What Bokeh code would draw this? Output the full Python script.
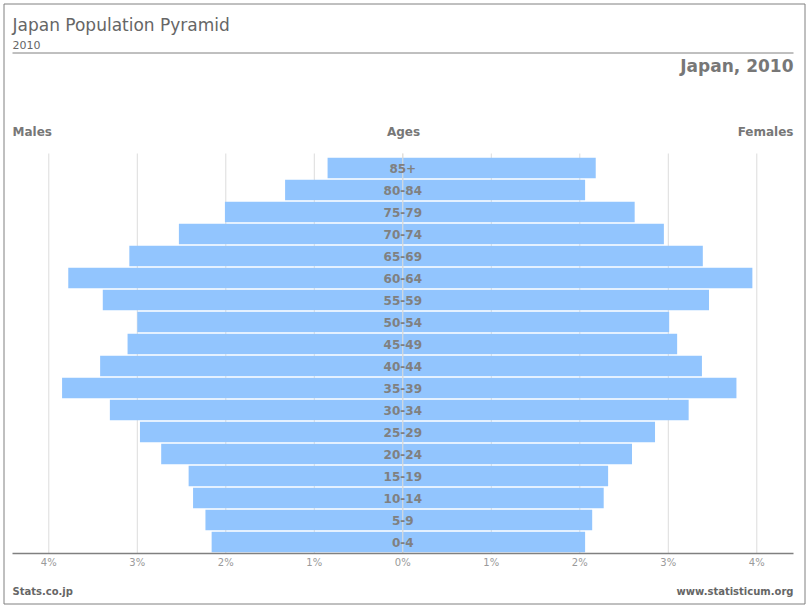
from bokeh.plotting import figure
from bokeh.models import ColumnDataSource, Range1d, Label
from bokeh.core.properties import value
from bokeh.embed import file_html
from bokeh.resources import INLINE

# ---- data (percent of total population) ----
ages = ["0-4", "5-9", "10-14", "15-19", "20-24", "25-29", "30-34", "35-39", "40-44",
        "45-49", "50-54", "55-59", "60-64", "65-69", "70-74", "75-79", "80-84", "85+"]
males = [2.16, 2.23, 2.37, 2.42, 2.73, 2.97, 3.31, 3.85, 3.42,
         3.11, 3.00, 3.39, 3.78, 3.09, 2.53, 2.01, 1.33, 0.85]
females = [2.06, 2.14, 2.27, 2.32, 2.59, 2.85, 3.23, 3.77, 3.38,
           3.10, 3.01, 3.46, 3.95, 3.39, 2.95, 2.62, 2.06, 2.18]
tick_values = [-4, -3, -2, -1, 0, 1, 2, 3, 4]
tick_labels = ["4%", "3%", "2%", "1%", "0%", "1%", "2%", "3%", "4%"]

title_text = "Japan Population Pyramid"
subtitle_text = "2010"
caption_text = "Japan, 2010"
left_head, mid_head, right_head = "Males", "Ages", "Females"
source_left, source_right = "Stats.co.jp", "www.statisticum.org"

# ---- layout helpers (page pixel -> data units) ----
W, H = 808, 608
X0, XS = 402.3, 88.5      # page x of 0%, px per 1%
Y0, YS = 541.5, 22.0      # page y of first row centre, px per row
def px(x): return (x - X0) / XS
def py(y): return (Y0 - y) / YS

FONT = value("DejaVu Sans")
GREY = "#777777"
BAR = "#92c5fe"

p = figure(width=W, height=H, output_backend="svg", toolbar_location=None,
           x_range=Range1d(px(0), px(W)), y_range=Range1d(py(H), py(0)),
           x_axis_location=None, y_axis_location=None,
           min_border=0, min_border_left=0, min_border_right=0,
           min_border_top=0, min_border_bottom=0,
           outline_line_color=None, background_fill_color="white",
           border_fill_color="white")
p.grid.visible = False

# outer border and header rule
p.quad(left=px(3.5), right=px(804.5), bottom=py(603.5), top=py(3.5),
       fill_color=None, line_color="#808080", line_width=1)
p.segment(x0=px(12), x1=px(793), y0=py(52.5), y1=py(52.5), line_color="#808080", line_width=1)

# vertical grid lines at the ticks
p.segment(x0=tick_values, x1=tick_values, y0=py(553), y1=py(153),
          line_color="#dcdcdc", line_width=1)

idx = list(range(len(ages)))
src = ColumnDataSource(dict(
    y=idx, age=ages,
    mleft=[-v for v in males], zero=[0] * len(ages), fright=females,
))
p.hbar(y="y", left="mleft", right="zero", height=0.94, source=src,
       fill_color=BAR, line_color=None)
p.hbar(y="y", left="zero", right="fright", height=0.94, source=src,
       fill_color=BAR, line_color=None)
p.segment(x0=0, x1=0, y0=py(553), y1=py(153), line_color="#e2ddd6", line_width=1)
p.text(x=0, y="y", text="age", source=src, text_align="center", text_baseline="middle",
       text_font=FONT, text_font_size="12px", text_font_style="bold", text_color="#808080")

# x axis: line and tick labels
p.segment(x0=px(12), x1=px(793), y0=py(553), y1=py(553), line_color="#808080", line_width=1.5)
p.text(x=tick_values, y=[py(561.5)] * len(tick_values), text=tick_labels,
       text_align="center", text_baseline="middle", text_font=FONT,
       text_font_size="10px", text_color="#9a9a9a")

def lab(text, x, y, align="left", size="12px", style="bold", color=GREY):
    p.add_layout(Label(x=px(x), y=py(y), text=text, text_align=align, text_baseline="middle",
                       text_font="DejaVu Sans", text_font_size=size, text_font_style=style,
                       text_color=color))

lab(title_text, 12, 24.3, size="17px", style="normal", color="#666666")
lab(subtitle_text, 12, 44, size="11px", style="normal", color="#666666")
lab(caption_text, 793, 65.3, align="right", size="17px")
lab(left_head, 12, 131.7)
lab(mid_head, 403, 131.7, align="center")
lab(right_head, 793, 131.7, align="right")
lab(source_left, 12, 590.8, size="10px", color="#666666")
lab(source_right, 793, 590.8, align="right", size="10px", color="#666666")

open("out.html", "w").write(file_html(p, INLINE))
